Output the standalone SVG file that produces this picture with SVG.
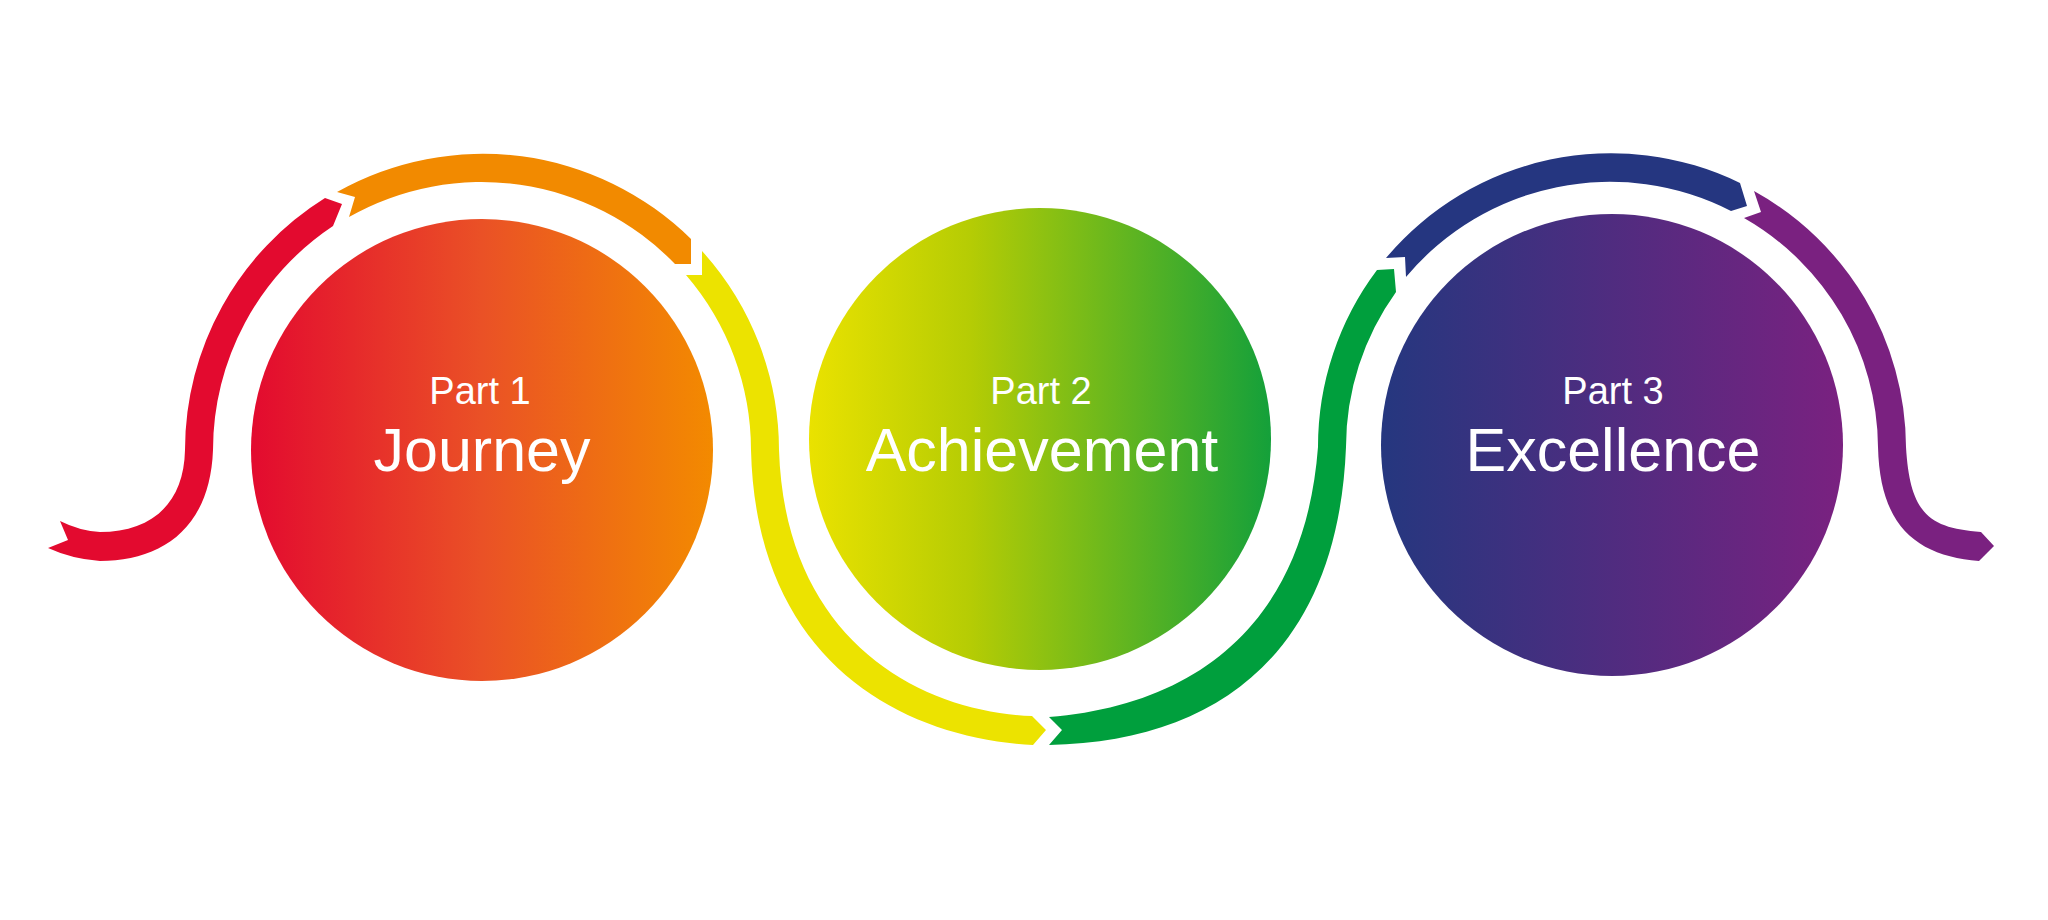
<svg xmlns="http://www.w3.org/2000/svg" width="2048" height="920" viewBox="0 0 2048 920">
<style>
.bg{fill:#ffffff}
.lbl-small{font-family:"Liberation Sans",Arial,sans-serif;font-size:38px;fill:#ffffff;text-anchor:middle}
.lbl-big{font-family:"Liberation Sans",Arial,sans-serif;font-size:61px;fill:#ffffff;text-anchor:middle}
.red{fill:#E30A2F}
.orange{fill:#F28A00}
.yellow{fill:#ECE300}
.green{fill:#009F3D}
.blue{fill:#253680}
.purple{fill:#7A2180}
</style>
<defs>
<linearGradient id="g1" x1="0" y1="0" x2="1" y2="0">
<stop offset="0" stop-color="#E30A2F"/>
<stop offset="0.5" stop-color="#EA5126"/>
<stop offset="1" stop-color="#F38A00"/>
</linearGradient>
<linearGradient id="g2" x1="0" y1="0" x2="1" y2="0">
<stop offset="0" stop-color="#EAE200"/>
<stop offset="0.35" stop-color="#B5CC04"/>
<stop offset="1" stop-color="#14A03A"/>
</linearGradient>
<linearGradient id="g3" x1="0" y1="0" x2="1" y2="0">
<stop offset="0" stop-color="#25377F"/>
<stop offset="1" stop-color="#7A2180"/>
</linearGradient>
</defs>
<rect class="bg" x="0" y="0" width="2048" height="920"/>

<g id="node-1">
<circle cx="482" cy="450" r="231" fill="url(#g1)"/>
<text class="lbl-small" x="480" y="404">Part 1</text>
<text class="lbl-big" x="482" y="471">Journey</text>
</g>

<g id="node-2">
<circle cx="1040" cy="439" r="231" fill="url(#g2)"/>
<text class="lbl-small" x="1041" y="404">Part 2</text>
<text class="lbl-big" x="1042" y="471">Achievement</text>
</g>

<g id="node-3">
<circle cx="1612" cy="445" r="231" fill="url(#g3)"/>
<text class="lbl-small" x="1613" y="404">Part 3</text>
<text class="lbl-big" x="1613" y="471">Excellence</text>
</g>

<g id="connectors">
<path id="ribbon-red" class="red" d="M 60,521 L 68,540 L 48,548 Q 72,559 100,561 C 160,561 210,530 213,450 A 269 269 0 0 1 333,226 L 342,204 L 325,198 A 297 297 0 0 0 185,450 C 184,505 150,532 100,532 Q 80,531 60,521 Z"/>
<path id="ribbon-orange" class="orange" d="M 337,192 A 297 297 0 0 1 691,239 L 691,264 L 675,264 A 269 269 0 0 0 349,217 L 355,197 Z"/>
<path id="ribbon-yellow" class="yellow" d="M 702,251 A 297 297 0 0 1 779,450 C 785,640 920,712 1032,716 L 1046,730 L 1033,745 C 900,738 756,660 751,450 A 269 269 0 0 0 686,275 L 702,275 Z"/>
<path id="ribbon-green" class="green" d="M 1049,717 C 1200,705 1305,620 1318,447 A 294 294 0 0 1 1377,270 L 1394,269 L 1396,292 A 266 266 0 0 0 1346,447 C 1338,650 1220,742 1049,745 L 1062,730 Z"/>
<path id="ribbon-blue" class="blue" d="M 1386,258 A 294 294 0 0 1 1740,183 L 1747,206 L 1731,211 A 266 266 0 0 0 1406,277 L 1405,257 Z"/>
<path id="ribbon-purple" class="purple" d="M 1754,191 A 294 294 0 0 1 1906,447 C 1910,515 1930,528 1981,532 L 1994,546 L 1979,561 C 1920,556 1880,530 1878,447 A 266 266 0 0 0 1744,218 L 1761,212 Z"/>
</g>
</svg>
